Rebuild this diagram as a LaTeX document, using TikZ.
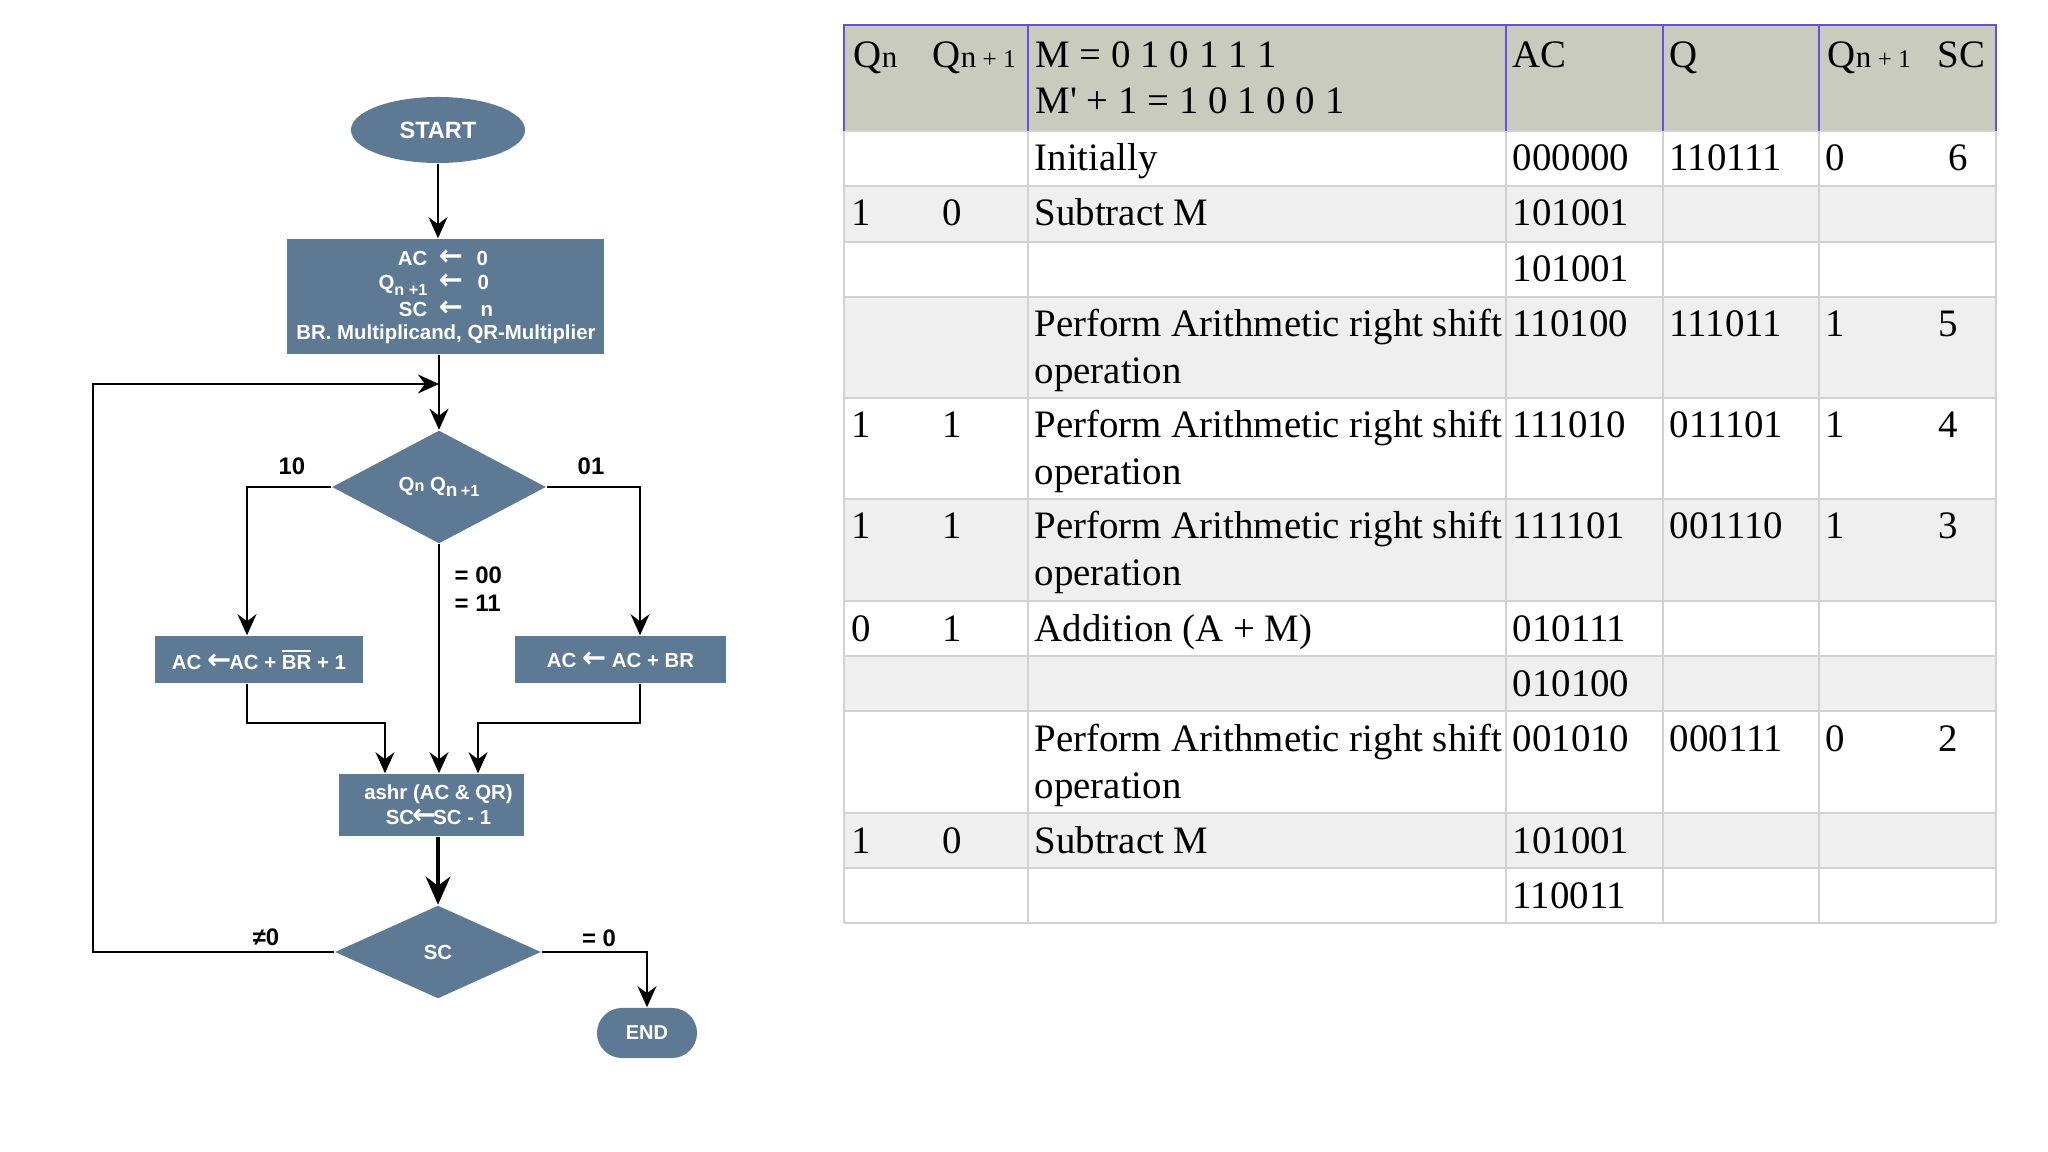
\documentclass[tikz,border=0pt]{standalone}
\usepackage{fontspec}
\setmainfont{Liberation Serif}
\newfontfamily\fcfont{Liberation Sans}
\newfontfamily\arrfont{DejaVu Sans}
\usetikzlibrary{shapes.geometric,arrows.meta}
\definecolor{boxblue}{HTML}{5E7993}
\definecolor{hdrfill}{HTML}{C9CBBE}
\definecolor{hdrline}{HTML}{6A4FD8}
\definecolor{gridline}{HTML}{D2D2D2}
\definecolor{rowgray}{HTML}{EFEFEF}
\newcommand{\smn}[1]{{\fontsize{4.6}{5}\selectfont #1}}
\newcommand{\tsm}[1]{{\fontsize{8.8}{9}\selectfont #1}}
\newcommand{\tpl}{{\fontsize{7.2}{8}\selectfont\ + 1}}
\newcommand{\lar}{{\arrfont\fontsize{8.2}{8}\selectfont ←}}
\newcommand{\sq}{{\XeTeXglyph\XeTeXglyphindex "quotesingle"\relax}}
\begin{document}
\begin{tikzpicture}[x=0.01cm,y=-0.01cm,
  fcfill/.style={fill=boxblue, draw=none, inner sep=0pt, text=white, font=\fcfont\bfseries\fontsize{5.8}{7.1}\selectfont},
  fctext/.style={inner sep=0pt, text=white, font=\fcfont\bfseries\fontsize{5.8}{7.1}\selectfont},
  lbl/.style={inner sep=0pt, text=black, font=\fcfont\bfseries\fontsize{6.8}{8}\selectfont},
  arr/.style={-{Stealth[length=6pt,width=5.4pt,inset=2pt]}, line width=0.6pt},
  arrthick/.style={-{Stealth[length=8pt,width=7pt,inset=2.6pt]}, line width=1.3pt},
  cell/.style={anchor=base west, inner sep=0pt, font=\fontsize{11.05}{13.4}\selectfont},
  cellc/.style={anchor=base, inner sep=0pt, font=\fontsize{11.05}{13.4}\selectfont}
]
\path[fill=white, use as bounding box] (0,0) rectangle (2048,1152);

% ---------------- Flowchart ----------------
\node[ellipse, fcfill, minimum width=17.4mm, minimum height=6.6mm,
      font=\fcfont\bfseries\fontsize{6.7}{8}\selectfont] (start) at (438,130) {START};

\node[fcfill, minimum width=31.7mm, minimum height=11.5mm] (init) at (445.5,296.5) {};
\node[fctext, anchor=base east] (i1a) at (428,266) {AC};
\node[fctext, anchor=base] (i1b) at (451,266) {\lar};
\node[fctext, anchor=base west] (i1c) at (476,266) {0};
\node[fctext, anchor=base east] (i2a) at (428,290) {Q\raisebox{-0.5ex}{\smn{n +1}}};
\node[fctext, anchor=base] (i2b) at (451,290) {\lar};
\node[fctext, anchor=base west] (i2c) at (477,290) {0};
\node[fctext, anchor=base east] (i3a) at (428,317) {SC};
\node[fctext, anchor=base] (i3b) at (451,317) {\lar};
\node[fctext, anchor=base west] (i3c) at (480,317) {n};
\node[fctext, anchor=base] (i4) at (446,340) {BR. Multiplicand, QR-Multiplier};

\node[diamond, fcfill, minimum width=21.4mm, minimum height=11.3mm] (d1) at (439,487)
  {Q\smn{n} Q\raisebox{-0.4ex}{\fontsize{5.4}{6}\selectfont n}\,\raisebox{-0.4ex}{\smn{+1}}};

\node[fcfill, minimum width=20.8mm, minimum height=4.7mm] (lb) at (259,659.5)
  {AC \lar\kern-0.2mm AC + $\overline{\mbox{BR}}$ + 1};
\node[fcfill, minimum width=21.1mm, minimum height=4.7mm] (rb) at (620.5,659.5)
  {AC \lar\ AC + BR};
\node[fcfill, minimum width=18.5mm, minimum height=6.2mm, align=center] (ab) at (431.5,805)
  {\hspace*{1.4mm}ashr (AC \& QR)\\\hspace*{1.4mm}SC\kern-0.2mm\lar\kern-0.3mm SC - 1};

\node[diamond, fcfill, minimum width=20.6mm, minimum height=9.3mm] (d2) at (438,952) {SC};
\node[fcfill, rounded corners=2.5mm, minimum width=10mm, minimum height=5mm,
      font=\fcfont\bfseries\fontsize{5.7}{7}\selectfont] (end) at (647,1033) {END};

% labels
\node[lbl] (l10) at (292,466) {10};
\node[lbl] (l01) at (591,466) {01};
\node[lbl, anchor=west] (l00) at (454,575) {= 00};
\node[lbl, anchor=west] (l11) at (454,603) {= 11};
\node[lbl] (lne) at (266,937) {≠0};
\node[lbl] (leq) at (599,938) {= 0};

% connectors
\coordinate (join) at (439,384);
\coordinate (loopc) at (93,384);
\draw[arr] (start.south) -- (start.south |- init.north);
\draw[arr] (init.south -| d1.north) -- (d1.north);
\draw[arr] (d1.west) -| ([xshift=-1.2mm]lb.north);
\draw[arr] (d1.east) -| ([xshift=1.95mm]rb.north);
\draw[arr] (d1.south) -- (d1.south |- ab.north);
\draw[arr] ([xshift=-1.2mm]lb.south) -- ++(0,39) -| ([xshift=-4.65mm]ab.north);
\draw[arr] ([xshift=1.95mm]rb.south) -- ++(0,39) -| ([xshift=4.65mm]ab.north);
\draw[arrthick] (ab.south -| d2.north) -- (d2.north);
\draw[arr] (d2.east) -| (end.north);
\draw[arr] (d2.west) -| (loopc) -- (join);

% ---------------- Table ----------------
\fill[hdrfill] (844,25) rectangle (1996,131);
\foreach \t/\b in {186/242, 297/398, 499/601, 656/711, 813/868}
  \fill[rowgray] (844,\t) rectangle (1996,\b);
\foreach \y in {131,186,242,297,398,499,601,656,711,813,868,923}
  \draw[gridline, line width=0.6pt] (844,\y) -- (1996,\y);
\foreach \x in {844,1028,1506,1663,1819,1996}
  \draw[gridline, line width=0.6pt] (\x,131) -- (\x,923);
\draw[hdrline, line width=0.6pt] (844,131) -- (844,25) -- (1996,25) -- (1996,131);
\foreach \x in {1028,1506,1663,1819}
  \draw[hdrline, line width=0.6pt] (\x,25) -- (\x,131);

% header
\node[cell] (h1) at (853,68) {Q\tsm{n}};
\node[cell] (h2) at (932,68) {Q\tsm{n}\tpl};
\node[cell] (h3) at (1035,68) {M = 0 1 0 1 1 1};
\node[cell] (h3b) at (1035,114) {M\sq{} + 1 = 1 0 1 0 0 1};
\node[cell] (h4) at (1512,68) {AC};
\node[cell] (h5) at (1669,68) {Q};
\node[cell] (h6) at (1827,68) {Q\tsm{n}\tpl};
\node[cell] (h7) at (1937,68) {SC};

% row 1
\node[cell] (r1d) at (1034,171) {Initially};
\node[cell] (r1a) at (1512,171) {000000};
\node[cell] (r1q) at (1669,171) {110111};
\node[cell] (r1n) at (1825,171) {0};
\node[cellc] (r1s) at (1958,171) {6};
% row 2
\node[cell] (r2x) at (851,226) {1};
\node[cellc] (r2y) at (952,226) {0};
\node[cell] (r2d) at (1034,226) {Subtract M};
\node[cell] (r2a) at (1512,226) {101001};
% row 3
\node[cell] (r3a) at (1512,282) {101001};
% row 4
\node[cell] (r4d) at (1034,337) {Perform Arithmetic right shift};
\node[cell] (r4e) at (1034,384) {operation};
\node[cell] (r4a) at (1512,337) {110100};
\node[cell] (r4q) at (1669,337) {111011};
\node[cell] (r4n) at (1825,337) {1};
\node[cellc] (r4s) at (1948,337) {5};
% row 5
\node[cell] (r5x) at (851,438) {1};
\node[cellc] (r5y) at (952,438) {1};
\node[cell] (r5d) at (1034,438) {Perform Arithmetic right shift};
\node[cell] (r5e) at (1034,485) {operation};
\node[cell] (r5a) at (1512,438) {111010};
\node[cell] (r5q) at (1669,438) {011101};
\node[cell] (r5n) at (1825,438) {1};
\node[cellc] (r5s) at (1948,438) {4};
% row 6
\node[cell] (r6x) at (851,539) {1};
\node[cellc] (r6y) at (952,539) {1};
\node[cell] (r6d) at (1034,539) {Perform Arithmetic right shift};
\node[cell] (r6e) at (1034,586) {operation};
\node[cell] (r6a) at (1512,539) {111101};
\node[cell] (r6q) at (1669,539) {001110};
\node[cell] (r6n) at (1825,539) {1};
\node[cellc] (r6s) at (1948,539) {3};
% row 7
\node[cell] (r7x) at (851,641) {0};
\node[cellc] (r7y) at (952,641) {1};
\node[cell] (r7d) at (1034,641) {Addition (A + M)};
\node[cell] (r7a) at (1512,641) {010111};
% row 8
\node[cell] (r8a) at (1512,696) {010100};
% row 9
\node[cell] (r9d) at (1034,751) {Perform Arithmetic right shift};
\node[cell] (r9e) at (1034,798) {operation};
\node[cell] (r9a) at (1512,751) {001010};
\node[cell] (r9q) at (1669,751) {000111};
\node[cell] (r9n) at (1825,751) {0};
\node[cellc] (r9s) at (1948,751) {2};
% row 10
\node[cell] (r10x) at (851,853) {1};
\node[cellc] (r10y) at (952,853) {0};
\node[cell] (r10d) at (1034,853) {Subtract M};
\node[cell] (r10a) at (1512,853) {101001};
% row 11
\node[cell] (r11a) at (1512,908) {110011};
\end{tikzpicture}
\end{document}
